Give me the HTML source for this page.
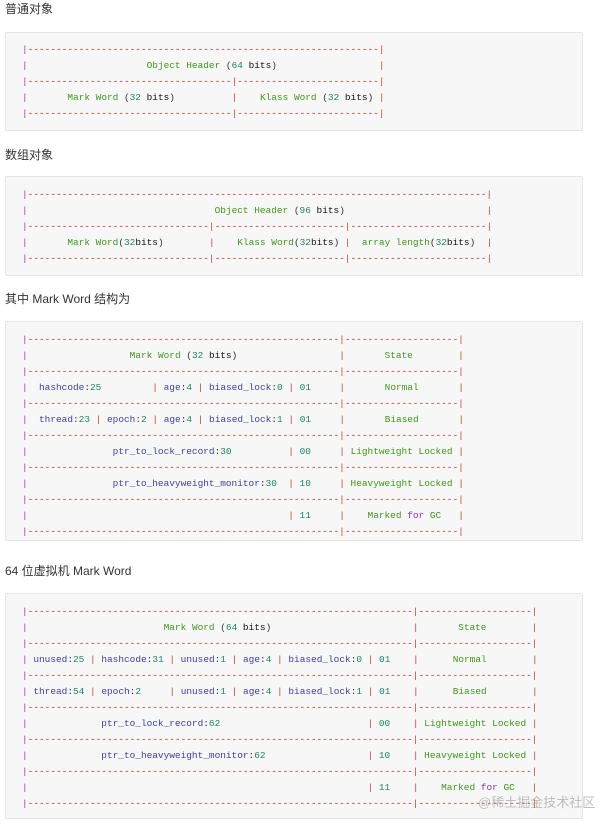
<!DOCTYPE html>
<html><head><meta charset="utf-8"><style>
body{margin:0;background:#fff;width:614px;height:827px;position:relative;overflow:hidden;font-family:"Liberation Sans","Noto Sans CJK SC",sans-serif}
.h{position:absolute;left:5px;font-size:12px;color:#333;line-height:16px}
.box{position:absolute;left:5px;width:576px;background:#f7f7f7;border:1px solid #e6e6e6;border-radius:2px}
pre{margin:0;padding:0 0 0 16px;font-family:"Liberation Mono",monospace;font-size:9.45px;line-height:16px;color:#333}
.d{color:#b5261e}.p{color:#d2451e}.q{color:#a83aa8}.n{color:#138a5e}.g{color:#3a9a12}.b{color:#3d3da8}.k{color:#111}.f{color:#9b2fae}
.wm{position:absolute;left:478px;top:792px;font-size:13px;color:rgba(150,150,150,.6)}
</style></head><body>
<div class="h" style="top:1px">普通对象</div>
<div class="box" style="top:32px;height:97px"><pre id="p1" style="padding-top:9px">|--------------------------------------------------------------|
|                     Object Header (64 bits)                  |
|------------------------------------|-------------------------|
|       Mark Word (32 bits)          |    Klass Word (32 bits) |
|------------------------------------|-------------------------|</pre></div>

<div class="h" style="top:147px">数组对象</div>
<div class="box" style="top:176px;height:98px"><pre id="p2" style="padding-top:10px">|---------------------------------------------------------------------------------|
|                                 Object Header (96 bits)                         |
|--------------------------------|-----------------------|------------------------|
|       Mark Word(32bits)        |    Klass Word(32bits) |  array length(32bits)  |
|--------------------------------|-----------------------|------------------------|</pre></div>

<div class="h" style="top:291px">其中 Mark Word 结构为</div>
<div class="box" style="top:321px;height:218px"><pre id="p3" style="padding-top:10px">|-------------------------------------------------------|--------------------|
|                  Mark Word (32 bits)                  |       State        |
|-------------------------------------------------------|--------------------|
|  hashcode:25         | age:4 | biased_lock:0 | 01     |       Normal       |
|-------------------------------------------------------|--------------------|
|  thread:23 | epoch:2 | age:4 | biased_lock:1 | 01     |       Biased       |
|-------------------------------------------------------|--------------------|
|               ptr_to_lock_record:30          | 00     | Lightweight Locked |
|-------------------------------------------------------|--------------------|
|               ptr_to_heavyweight_monitor:30  | 10     | Heavyweight Locked |
|-------------------------------------------------------|--------------------|
|                                              | 11     |    Marked for GC   |
|-------------------------------------------------------|--------------------|</pre></div>

<div class="h" style="top:563px">64 位虚拟机 Mark Word</div>
<div class="box" style="top:593px;height:224px"><pre id="p4" style="padding-top:10px">|--------------------------------------------------------------------|--------------------|
|                        Mark Word (64 bits)                         |       State        |
|--------------------------------------------------------------------|--------------------|
| unused:25 | hashcode:31 | unused:1 | age:4 | biased_lock:0 | 01    |      Normal        |
|--------------------------------------------------------------------|--------------------|
| thread:54 | epoch:2     | unused:1 | age:4 | biased_lock:1 | 01    |      Biased        |
|--------------------------------------------------------------------|--------------------|
|             ptr_to_lock_record:62                          | 00    | Lightweight Locked |
|--------------------------------------------------------------------|--------------------|
|             ptr_to_heavyweight_monitor:62                  | 10    | Heavyweight Locked |
|--------------------------------------------------------------------|--------------------|
|                                                            | 11    |    Marked for GC   |
|--------------------------------------------------------------------|--------------------|</pre></div>
<div class="wm">@稀土掘金技术社区</div>
<script>
var G={Mark:1,Word:1,Object:1,Header:1,Klass:1,State:1,Normal:1,Biased:1,Lightweight:1,Locked:1,Heavyweight:1,Marked:1,GC:1,array:1,length:1};
var CUTS={p1:[[0,63],[0,37,63]],p2:[[0,82],[0,33,57,82]],p3:[[0,56,77],[0,56,77]],p4:[[0,69,90],[0,69,90]]};
function dl(c){var s='';for(var i=0;i<=c[c.length-1];i++)s+=(c.indexOf(i)>=0?'|':'-');return s;}
document.querySelectorAll('pre').forEach(function(pr){
 var cu=CUTS[pr.id];var di=0;var W=cu[0][cu[0].length-1]+1;
 var lines=pr.textContent.split('\n');
 pr.innerHTML=lines.map(function(l){
  if(/^[|-]+$/.test(l)){l=dl(di===0?cu[0]:cu[1]);di++;}
  else{l=l.replace(/\s+$/,'');while(l.length<W)l=l.slice(0,-1)+' |';}
  var first=true;
  return l.replace(/(-+)|(\|)|(\d+)|([A-Za-z_]+)|([()])/g,function(m,d,p,n,w,o){
   if(d)return '<span class="d">'+d+'</span>';
   if(p){var c=first?'q':'p';first=false;return '<span class="'+c+'">|</span>';}
   if(n)return '<span class="n">'+n+'</span>';
   if(w){var c=G[w]?'g':(w==='bits'?'k':(w==='for'?'f':'b'));return '<span class="'+c+'">'+w+'</span>';}
   return m;
  });
 }).join('\n');
});
</script>
</body></html>
